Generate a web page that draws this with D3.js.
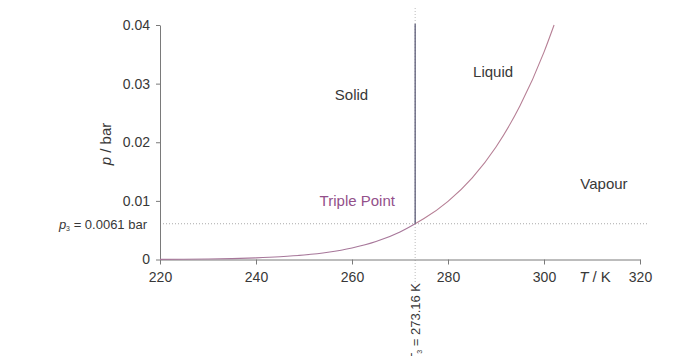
<!DOCTYPE html>
<html>
<head>
<meta charset="utf-8">
<script src="https://cdn.jsdelivr.net/npm/d3@7"></script>
<style>
  body { margin: 0; background: #fff; }
  text { font-family: "Liberation Sans", Arial, sans-serif; }
</style>
</head>
<body>
<div id="chart"></div>
<script>
// sublimation curve (ice) T in K, p in bar
const iceT = [220, 225, 230, 235, 240, 245, 250, 255, 260, 265, 270, 273.16];
const iceP = [0.0000266, 0.0000491, 0.0000891, 0.000155, 0.000273, 0.000463, 0.000760, 0.00123, 0.00196, 0.00306, 0.00470, 0.00611];
// vaporisation curve (liquid)
const liqT = [273.16, 275, 280, 285, 290, 295, 300, 302.1];
const liqP = [0.00611, 0.00698, 0.00992, 0.01389, 0.01920, 0.02621, 0.03537, 0.0400];
const xTicks = [220, 240, 260, 280, 300, 320];
const yTicks = [0, 0.01, 0.02, 0.03, 0.04];
const T3 = 273.16, p3 = 0.0061;
const regions = [
  { name: 'Solid', T: 259.9, p: 0.0278 },
  { name: 'Liquid', T: 289.4, p: 0.0318 },
  { name: 'Vapour', T: 312.5, p: 0.0127 }
];

const width = 688, height = 356;
const svg = d3.select('#chart').append('svg')
  .attr('width', width).attr('height', height);

const x = d3.scaleLinear().domain([220, 320]).range([160, 640]);
const y = d3.scaleLinear().domain([0, 0.04]).range([259.5, 25]);

const axisCol = '#7a7a7a', textCol = '#383838';
const font = '"Liberation Sans", Arial, sans-serif';

// dotted guides
svg.append('line')
  .attr('x1', x(220)).attr('x2', 648)
  .attr('y1', y(p3)).attr('y2', y(p3))
  .attr('stroke', '#aaa').attr('stroke-width', 1).attr('stroke-dasharray', '1,2');
svg.append('line')
  .attr('x1', x(T3)).attr('x2', x(T3))
  .attr('y1', 8).attr('y2', 282)
  .attr('stroke', '#bbb').attr('stroke-width', 1).attr('stroke-dasharray', '1,2');

// x axis
const xAxis = d3.axisBottom(x).tickValues(xTicks).tickSize(5).tickSizeOuter(0).tickPadding(8);
const gx = svg.append('g').attr('transform', `translate(0,${y(0)})`).call(xAxis);
gx.select('.domain').attr('stroke', axisCol);
gx.selectAll('.tick line').attr('stroke', axisCol);
gx.selectAll('.tick text').attr('fill', textCol).attr('font-size', 14).attr('font-family', font);

// y axis
const yAxis = d3.axisLeft(y).tickValues(yTicks).tickSize(4).tickSizeOuter(0).tickPadding(6)
  .tickFormat(d => d === 0 ? '0' : d3.format('.2f')(d));
const gy = svg.append('g').attr('transform', `translate(${x(220)},0)`).call(yAxis);
gy.select('.domain').attr('stroke', axisCol);
gy.selectAll('.tick line').attr('stroke', axisCol);
gy.selectAll('.tick text').attr('fill', textCol).attr('font-size', 14).attr('font-family', font);

// curves
const line = d3.line().x(d => x(d[0])).y(d => y(d[1])).curve(d3.curveMonotoneX);
svg.append('path')
  .datum(iceT.map((t, i) => [t, iceP[i]]))
  .attr('d', line).attr('fill', 'none').attr('stroke', '#a7779a').attr('stroke-width', 1.1);
svg.append('path')
  .datum(liqT.map((t, i) => [t, liqP[i]]))
  .attr('d', line).attr('fill', 'none').attr('stroke', '#b67f95').attr('stroke-width', 1.1);

// melting line
svg.append('line')
  .attr('x1', x(T3)).attr('x2', x(T3))
  .attr('y1', y(0.0402)).attr('y2', y(p3))
  .attr('stroke', '#5c5c78').attr('stroke-width', 1.3);

// region labels
svg.selectAll('.region').data(regions).enter().append('text')
  .attr('x', d => x(d.T)).attr('y', d => y(d.p))
  .attr('text-anchor', 'middle').attr('dominant-baseline', 'middle')
  .attr('font-size', 15).attr('fill', textCol)
  .text(d => d.name);

svg.append('text')
  .attr('x', x(261.1)).attr('y', 202)
  .attr('text-anchor', 'middle').attr('dominant-baseline', 'middle')
  .attr('font-size', 15).attr('fill', '#93508a')
  .text('Triple Point');

// axis titles
const yl = svg.append('text')
  .attr('transform', `translate(107,144) rotate(-90)`)
  .attr('text-anchor', 'middle').attr('dominant-baseline', 'middle')
  .attr('font-size', 15).attr('fill', textCol);
yl.append('tspan').attr('font-style', 'italic').text('p');
yl.append('tspan').text(' / bar');

const xl = svg.append('text')
  .attr('x', 595).attr('y', 278)
  .attr('text-anchor', 'middle').attr('dominant-baseline', 'middle')
  .attr('font-size', 15).attr('fill', textCol);
xl.append('tspan').attr('font-style', 'italic').text('T');
xl.append('tspan').text(' / K');

// p3 label
const pl = svg.append('text')
  .attr('x', 147).attr('y', y(p3) + 5)
  .attr('text-anchor', 'end')
  .attr('font-size', 13).attr('fill', textCol);
pl.append('tspan').attr('font-style', 'italic').text('p');
pl.append('tspan').attr('font-size', 7).attr('dy', 2).text('3');
pl.append('tspan').attr('dy', -2).text(' = 0.0061 bar');

// T3 label
const tl = svg.append('text')
  .attr('transform', `translate(${x(T3) + 5},283) rotate(-90)`)
  .attr('text-anchor', 'end')
  .attr('font-size', 13).attr('fill', textCol);
tl.append('tspan').attr('font-style', 'italic').text('T');
tl.append('tspan').attr('font-size', 7).attr('dy', 2).text('3');
tl.append('tspan').attr('dy', -2).text(' = 273.16 K');
</script>
</body>
</html>
